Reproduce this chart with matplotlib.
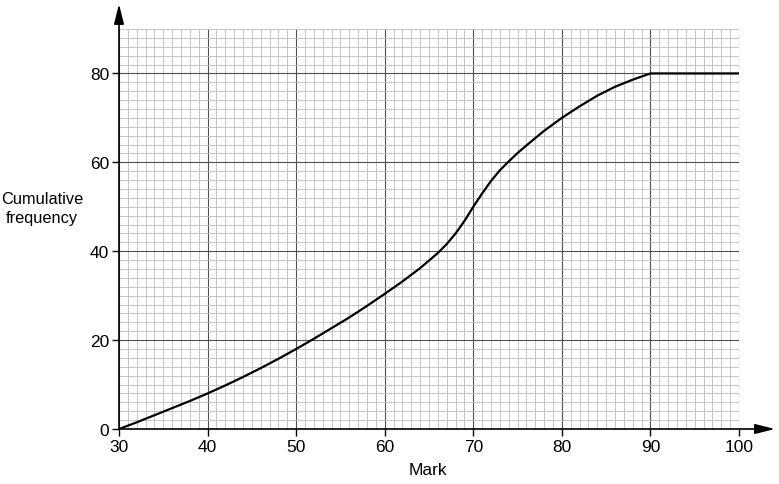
import numpy as np
import matplotlib.pyplot as plt
from matplotlib.ticker import MultipleLocator

plt.rcParams['font.family'] = ['Liberation Sans', 'DejaVu Sans']

# values
marks = [30, 32, 34, 36, 38, 40, 42, 44, 46, 48, 50, 52, 54, 56, 58, 60, 62, 64, 66,
         67, 68, 69, 70, 71, 72, 73, 74, 75, 76, 78, 80, 82, 84, 86, 88, 90, 100]
cum_freq = [0, 1.5, 3.1, 4.7, 6.3, 8, 9.8, 11.7, 13.7, 15.8, 18, 20.3, 22.7, 25.1, 27.7,
            30.4, 33.2, 36.2, 39.6, 41.6, 44, 46.8, 50, 53, 55.8, 58.2, 60.2, 62.1, 63.8,
            67.1, 70, 72.6, 75, 77, 78.6, 80, 80]
x_ticks = [30, 40, 50, 60, 70, 80, 90, 100]
y_ticks = [0, 20, 40, 60, 80]

fig = plt.figure(figsize=(7.79, 4.85), dpi=100)
ax = fig.add_axes([119 / 779, 1 - 430 / 485, 620 / 779, 400 / 485])

ax.set_xlim(30, 100)
ax.set_ylim(0, 90)
ax.set_xticks(x_ticks)
ax.set_yticks(y_ticks)
ax.xaxis.set_minor_locator(MultipleLocator(1))
ax.yaxis.set_minor_locator(MultipleLocator(2))
ax.grid(which='minor', color='#bcbcbc', lw=0.6)
ax.grid(which='major', color='#505050', lw=0.8)
ax.set_axisbelow(True)
ax.tick_params(which='minor', length=0)
ax.tick_params(which='major', direction='out', length=5, width=1, labelsize=12.5, pad=2)

for s in ['top', 'right', 'left', 'bottom']:
    ax.spines[s].set_visible(False)

# axis arrows
ax.annotate('', xy=(1.058, 0), xytext=(0, 0), xycoords='axes fraction',
            arrowprops=dict(arrowstyle='-|>,head_length=1.2,head_width=0.3',
                            color='black', lw=1.2, shrinkA=0, shrinkB=0))
ax.annotate('', xy=(0, 1.0625), xytext=(0, 0), xycoords='axes fraction',
            arrowprops=dict(arrowstyle='-|>,head_length=1.2,head_width=0.3',
                            color='black', lw=1.2, shrinkA=0, shrinkB=0))

ax.plot(marks, cum_freq, color='black', lw=1.6, solid_joinstyle='round')

fig.text(42 / 779, 1 - 209 / 485, 'Cumulative\nfrequency', ha='center', va='center',
         fontsize=11.8, linespacing=1.3)
fig.text(428 / 779, 1 - 471 / 485, 'Mark', ha='center', va='center', fontsize=12.5)

fig.savefig('out.png', dpi=100)
